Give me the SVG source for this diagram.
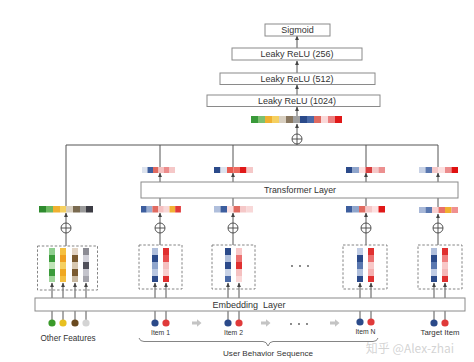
<svg xmlns="http://www.w3.org/2000/svg" width="474" height="362" viewBox="0 0 474 362">
<defs>
<style>
.box{fill:#fff;stroke:#8a8a8a;stroke-width:1}
.lbl{font-family:"Liberation Sans",Arial,sans-serif;fill:#333;text-anchor:middle}
.ln{stroke:#555;stroke-width:1;fill:none}
.dash{fill:none;stroke:#777;stroke-width:0.9;stroke-dasharray:2.5,1.8}
.plus{fill:#fff;stroke:#444;stroke-width:0.9}
.gar{fill:#c4c4c4}
</style>
<marker id="ah" viewBox="0 0 6 6" refX="5" refY="3" markerWidth="5" markerHeight="5" orient="auto" markerUnits="userSpaceOnUse">
<path d="M0,0.6 L5.5,3 L0,5.4 Z" fill="#444"/>
</marker>
<g id="oplus"><circle r="5" class="plus"/><path d="M-5,0H5M0,-5V5" stroke="#444" stroke-width="0.9"/></g>
</defs>
<rect width="474" height="362" fill="#fff"/>

<g id="connectors">
<line class="ln" x1="297" y1="48" x2="297" y2="36" marker-end="url(#ah)"/>
<line class="ln" x1="297" y1="73" x2="297" y2="61" marker-end="url(#ah)"/>
<line class="ln" x1="297" y1="95" x2="297" y2="85" marker-end="url(#ah)"/>
<line class="ln" x1="297" y1="116" x2="297" y2="107" marker-end="url(#ah)"/>
<line class="ln" x1="297" y1="134" x2="297" y2="124" marker-end="url(#ah)"/>
<line class="ln" x1="297" y1="145" x2="297" y2="144"/>
<line class="ln" x1="66" y1="145" x2="438" y2="145" stroke-width="1.2"/>
<line class="ln" x1="66" y1="145" x2="66" y2="206"/>
<line class="ln" x1="66" y1="223" x2="66" y2="213" marker-end="url(#ah)"/>
<line class="ln" x1="66" y1="246" x2="66" y2="233"/>

<line class="ln" x1="160" y1="145" x2="160" y2="167"/>
<line class="ln" x1="160" y1="182" x2="160" y2="173" marker-end="url(#ah)"/>
<line class="ln" x1="160" y1="198" x2="160" y2="206"/>
<line class="ln" x1="160" y1="223" x2="160" y2="213" marker-end="url(#ah)"/>
<line class="ln" x1="160" y1="245" x2="160" y2="233"/>

<line class="ln" x1="233" y1="145" x2="233" y2="167"/>
<line class="ln" x1="233" y1="182" x2="233" y2="173" marker-end="url(#ah)"/>
<line class="ln" x1="233" y1="198" x2="233" y2="206"/>
<line class="ln" x1="233" y1="223" x2="233" y2="213" marker-end="url(#ah)"/>
<line class="ln" x1="233" y1="245" x2="233" y2="233"/>

<line class="ln" x1="366" y1="145" x2="366" y2="167"/>
<line class="ln" x1="366" y1="182" x2="366" y2="173" marker-end="url(#ah)"/>
<line class="ln" x1="366" y1="198" x2="366" y2="206"/>
<line class="ln" x1="366" y1="223" x2="366" y2="213" marker-end="url(#ah)"/>
<line class="ln" x1="366" y1="245" x2="366" y2="233"/>

<line class="ln" x1="438" y1="145" x2="438" y2="167"/>
<line class="ln" x1="438" y1="182" x2="438" y2="173" marker-end="url(#ah)"/>
<line class="ln" x1="438" y1="198" x2="438" y2="207"/>
<line class="ln" x1="438" y1="223" x2="438" y2="214" marker-end="url(#ah)"/>
<line class="ln" x1="438" y1="245" x2="438" y2="233"/>

<g class="ln">
<line x1="52" y1="298" x2="52" y2="283" marker-end="url(#ah)"/>
<line x1="63" y1="298" x2="63" y2="283" marker-end="url(#ah)"/>
<line x1="75" y1="298" x2="75" y2="283" marker-end="url(#ah)"/>
<line x1="86" y1="298" x2="86" y2="283" marker-end="url(#ah)"/>
<line x1="155" y1="298" x2="155" y2="283" marker-end="url(#ah)"/>
<line x1="166" y1="298" x2="166" y2="283" marker-end="url(#ah)"/>
<line x1="228" y1="298" x2="228" y2="283" marker-end="url(#ah)"/>
<line x1="239" y1="298" x2="239" y2="283" marker-end="url(#ah)"/>
<line x1="360" y1="298" x2="360" y2="283" marker-end="url(#ah)"/>
<line x1="371" y1="298" x2="371" y2="283" marker-end="url(#ah)"/>
<line x1="434" y1="298" x2="434" y2="283" marker-end="url(#ah)"/>
<line x1="445" y1="298" x2="445" y2="283" marker-end="url(#ah)"/>
</g>
<g class="ln">
<line x1="52" y1="311" x2="52" y2="320"/>
<line x1="63" y1="311" x2="63" y2="320"/>
<line x1="75" y1="311" x2="75" y2="320"/>
<line x1="86" y1="311" x2="86" y2="320"/>
<line x1="155" y1="311" x2="155" y2="320"/>
<line x1="166" y1="311" x2="166" y2="320"/>
<line x1="228" y1="311" x2="228" y2="320"/>
<line x1="239" y1="311" x2="239" y2="320"/>
<line x1="360" y1="311" x2="360" y2="319"/>
<line x1="371" y1="311" x2="371" y2="319"/>
<line x1="434" y1="311" x2="434" y2="320"/>
<line x1="445" y1="311" x2="445" y2="320"/>
</g>
</g>

<g id="mlp">
<g id="sigmoid"><rect class="box" x="265" y="24" width="65" height="12"/><text class="lbl" x="297.5" y="33.2" font-size="9">Sigmoid</text></g>
<g id="relu256"><rect class="box" x="232" y="48" width="130" height="12"/><text class="lbl" x="297" y="57.2" font-size="9">Leaky ReLU (256)</text></g>
<g id="relu512"><rect class="box" x="220" y="73" width="155" height="11.5"/><text class="lbl" x="297" y="82" font-size="9">Leaky ReLU (512)</text></g>
<g id="relu1024"><rect class="box" x="207" y="95" width="173" height="11.5"/><text class="lbl" x="297" y="104" font-size="9">Leaky ReLU (1024)</text></g>
</g>

<g id="concat-top">
<rect x="251" y="116" width="7" height="7" fill="#3a9a3a"/>
<rect x="258" y="116" width="7" height="7" fill="#7cc070"/>
<rect x="265" y="116" width="7" height="7" fill="#f0b030"/>
<rect x="272" y="116" width="7" height="7" fill="#f5d060"/>
<rect x="279" y="116" width="7" height="7" fill="#d8cfc0"/>
<rect x="286" y="116" width="7" height="7" fill="#8a7860"/>
<rect x="293" y="116" width="7" height="7" fill="#a0a0a0"/>
<rect x="300" y="116" width="7" height="7" fill="#2b4a8a"/>
<rect x="307" y="116" width="7" height="7" fill="#4a6aa8"/>
<rect x="314" y="116" width="7" height="7" fill="#e06a60"/>
<rect x="321" y="116" width="7" height="7" fill="#fad8d8"/>
<rect x="328" y="116" width="7" height="7" fill="#ec8080"/>
<rect x="335" y="116" width="7" height="7" fill="#e01818"/>
</g>
<g id="plus-top"><use href="#oplus" x="297" y="139"/></g>

<g id="transformer"><rect class="box" x="141" y="182" width="317" height="16"/><text class="lbl" x="300" y="193.2" font-size="8.8">Transformer Layer</text></g>

<g id="other-concat">
<rect x="39" y="206" width="7" height="6.5" fill="#2e8b2e"/>
<rect x="46" y="206" width="7" height="6.5" fill="#6cb860"/>
<rect x="53" y="206" width="7" height="6.5" fill="#f0b030"/>
<rect x="60" y="206" width="6" height="6.5" fill="#f5d060"/>
<rect x="66" y="206" width="7" height="6.5" fill="#d8cfc0"/>
<rect x="73" y="206" width="7" height="6.5" fill="#7a6a50"/>
<rect x="80" y="206" width="6" height="6.5" fill="#9a9a9a"/>
<rect x="86" y="206" width="7" height="6.5" fill="#3c3c44"/>
</g>
<g id="other-plus"><use href="#oplus" x="66" y="228"/></g>
<g id="other-emb">
<rect class="dash" x="37.5" y="246" width="60" height="44"/>
<rect x="49" y="248" width="6" height="7" fill="#8fcf8f"/><rect x="49" y="255" width="6" height="7" fill="#3a9a3a"/><rect x="49" y="262" width="6" height="7" fill="#c0e4b8"/><rect x="49" y="269" width="6" height="7" fill="#3a9a3a"/><rect x="49" y="276" width="6" height="6" fill="#9fd49a"/>
<rect x="60" y="248" width="6" height="7" fill="#f5c040"/><rect x="60" y="255" width="6" height="7" fill="#f0a020"/><rect x="60" y="262" width="6" height="7" fill="#f5d060"/><rect x="60" y="269" width="6" height="7" fill="#f0a820"/><rect x="60" y="276" width="6" height="6" fill="#f5c040"/>
<rect x="72" y="248" width="6" height="7" fill="#e2d4c4"/><rect x="72" y="255" width="6" height="7" fill="#7a5a30"/><rect x="72" y="262" width="6" height="7" fill="#d8c8b0"/><rect x="72" y="269" width="6" height="7" fill="#7a5a30"/><rect x="72" y="276" width="6" height="6" fill="#c8b8a0"/>
<rect x="83" y="248" width="6" height="7" fill="#8c8c94"/><rect x="83" y="255" width="6" height="7" fill="#d0d0d8"/><rect x="83" y="262" width="6" height="7" fill="#50505a"/><rect x="83" y="269" width="6" height="7" fill="#c4c4cc"/><rect x="83" y="276" width="6" height="6" fill="#a4a4ac"/>
</g>
<g id="other-inputs">
<circle cx="52" cy="323" r="3.6" fill="#3a9a2a"/>
<circle cx="63" cy="323" r="3.6" fill="#e8c020"/>
<circle cx="75" cy="323" r="3.6" fill="#6a4a20"/>
<circle cx="86" cy="323" r="3.6" fill="#d4d4d4"/>
<text class="lbl" x="68" y="341" font-size="8.2">Other Features</text>
</g>

<g id="item1">
<rect x="142" y="167" width="5.5" height="6" fill="#dde3ee"/><rect x="147.5" y="167" width="5.5" height="6" fill="#3d5e9e"/><rect x="153" y="167" width="5.5" height="6" fill="#e06a60"/><rect x="158.5" y="167" width="5.5" height="6" fill="#f5c0c0"/><rect x="164" y="167" width="5.5" height="6" fill="#ec8c8c"/><rect x="169.5" y="167" width="5.5" height="6" fill="#f5c8c8"/>
<rect x="141" y="206" width="5.7" height="6.5" fill="#3d5e9e"/><rect x="146.7" y="206" width="5.7" height="6.5" fill="#9aadd0"/><rect x="152.4" y="206" width="5.7" height="6.5" fill="#e06a60"/><rect x="158.1" y="206" width="5.7" height="6.5" fill="#f5c0c0"/><rect x="163.8" y="206" width="5.7" height="6.5" fill="#f8d8d8"/><rect x="169.5" y="206" width="5.7" height="6.5" fill="#f2b235"/><rect x="175.2" y="206" width="5.7" height="6.5" fill="#e23a3a"/>
<use href="#oplus" x="160" y="228"/>
<rect class="dash" x="139" y="245" width="43" height="44"/>
<rect x="152" y="248" width="6" height="7" fill="#b0bfdc"/><rect x="152" y="255" width="6" height="7" fill="#2b4a8a"/><rect x="152" y="262" width="6" height="7" fill="#8fa5cc"/><rect x="152" y="269" width="6" height="7" fill="#b8c6e0"/><rect x="152" y="276" width="6" height="6" fill="#2b4a8a"/>
<rect x="163" y="248" width="6" height="7" fill="#e03030"/><rect x="163" y="255" width="6" height="7" fill="#e85050"/><rect x="163" y="262" width="6" height="7" fill="#f5c0c0"/><rect x="163" y="269" width="6" height="7" fill="#f8d0d0"/><rect x="163" y="276" width="6" height="6" fill="#e03030"/>
<circle cx="155" cy="323" r="3.6" fill="#2b4a8a"/><circle cx="166" cy="323" r="3.6" fill="#e03a3a"/>
<text class="lbl" x="160.5" y="334.5" font-size="6.8">Item 1</text>
</g>

<g id="item2">
<rect x="214" y="167" width="6.5" height="6" fill="#2b4a8a"/><rect x="220.5" y="167" width="6.5" height="6" fill="#dde3ee"/><rect x="227" y="167" width="6.5" height="6" fill="#e85a50"/><rect x="233.5" y="167" width="6.5" height="6" fill="#ee6a60"/><rect x="240" y="167" width="6.5" height="6" fill="#e01818"/><rect x="246.5" y="167" width="6.5" height="6" fill="#f5c8c8"/>
<rect x="214" y="206" width="6.5" height="6.5" fill="#b0bfdc"/><rect x="220.5" y="206" width="6.5" height="6.5" fill="#3d5e9e"/><rect x="227" y="206" width="6.5" height="6.5" fill="#fde0e0"/><rect x="233.5" y="206" width="6.5" height="6.5" fill="#e06a60"/><rect x="240" y="206" width="6.5" height="6.5" fill="#f5c8c8"/><rect x="246.5" y="206" width="6.5" height="6.5" fill="#f8d8d8"/>
<use href="#oplus" x="233" y="228"/>
<rect class="dash" x="212" y="245" width="43" height="44"/>
<rect x="225" y="248" width="6" height="7" fill="#2b4a8a"/><rect x="225" y="255" width="6" height="7" fill="#b0bfdc"/><rect x="225" y="262" width="6" height="7" fill="#2b4a8a"/><rect x="225" y="269" width="6" height="7" fill="#c8d2e6"/><rect x="225" y="276" width="6" height="6" fill="#4a6aa8"/>
<rect x="236" y="248" width="6" height="7" fill="#f8c8c8"/><rect x="236" y="255" width="6" height="7" fill="#ec7070"/><rect x="236" y="262" width="6" height="7" fill="#e03030"/><rect x="236" y="269" width="6" height="7" fill="#f5c0c0"/><rect x="236" y="276" width="6" height="6" fill="#fad8d8"/>
<circle cx="228" cy="323" r="3.6" fill="#2b4a8a"/><circle cx="239" cy="323" r="3.6" fill="#e03a3a"/>
<text class="lbl" x="233.5" y="334.5" font-size="6.8">Item 2</text>
</g>

<g id="itemN">
<rect x="346" y="167" width="6.5" height="6" fill="#2b4a8a"/><rect x="352.5" y="167" width="6.5" height="6" fill="#8fa5cc"/><rect x="359" y="167" width="6.5" height="6" fill="#fde0e0"/><rect x="365.5" y="167" width="6.5" height="6" fill="#d84040"/><rect x="372" y="167" width="6.5" height="6" fill="#f5c8c8"/><rect x="378.5" y="167" width="6.5" height="6" fill="#ec9090"/>
<rect x="346" y="206" width="6.5" height="6.5" fill="#3d5e9e"/><rect x="352.5" y="206" width="6.5" height="6.5" fill="#8fa5cc"/><rect x="359" y="206" width="6.5" height="6.5" fill="#e06a60"/><rect x="365.5" y="206" width="6.5" height="6.5" fill="#f5c8c8"/><rect x="372" y="206" width="6.5" height="6.5" fill="#fde0e0"/><rect x="378.5" y="206" width="6.5" height="6.5" fill="#e01818"/>
<use href="#oplus" x="366" y="228"/>
<rect class="dash" x="343" y="245" width="44" height="44"/>
<rect x="357" y="248" width="6" height="7" fill="#c0cce4"/><rect x="357" y="255" width="6" height="7" fill="#2b4a8a"/><rect x="357" y="262" width="6" height="7" fill="#5a78b0"/><rect x="357" y="269" width="6" height="7" fill="#b0bfdc"/><rect x="357" y="276" width="6" height="6" fill="#2b4a8a"/>
<rect x="368" y="248" width="6" height="7" fill="#e03030"/><rect x="368" y="255" width="6" height="7" fill="#ec7070"/><rect x="368" y="262" width="6" height="7" fill="#f8c8c8"/><rect x="368" y="269" width="6" height="7" fill="#f5b0b0"/><rect x="368" y="276" width="6" height="6" fill="#e03030"/>
<circle cx="360" cy="322" r="3.6" fill="#2b4a8a"/><circle cx="371" cy="322" r="3.6" fill="#e03a3a"/>
<text class="lbl" x="365.5" y="333.5" font-size="6.8">Item N</text>
</g>

<g id="target">
<rect x="419" y="167" width="6.5" height="6" fill="#c8d2e6"/><rect x="425.5" y="167" width="6.5" height="6" fill="#5a78b0"/><rect x="432" y="167" width="6.5" height="6" fill="#f5c8c8"/><rect x="438.5" y="167" width="6.5" height="6" fill="#fde0e0"/><rect x="445" y="167" width="6.5" height="6" fill="#ec8c8c"/><rect x="451.5" y="167" width="6.5" height="6" fill="#e01010"/>
<rect x="419" y="207" width="6.5" height="6" fill="#a8b8d8"/><rect x="425.5" y="207" width="6.5" height="6" fill="#5a78b0"/><rect x="432" y="207" width="6.5" height="6" fill="#f8d0d0"/><rect x="438.5" y="207" width="6.5" height="6" fill="#e8706a"/><rect x="445" y="207" width="6.5" height="6" fill="#f0b030"/><rect x="451.5" y="207" width="6.5" height="6" fill="#f09090"/>
<use href="#oplus" x="438" y="228"/>
<rect class="dash" x="418" y="245" width="44" height="44"/>
<rect x="431" y="248" width="6" height="7" fill="#b0bfdc"/><rect x="431" y="255" width="6" height="7" fill="#2b4a8a"/><rect x="431" y="262" width="6" height="7" fill="#5a78b0"/><rect x="431" y="269" width="6" height="7" fill="#c0cce4"/><rect x="431" y="276" width="6" height="6" fill="#2b4a8a"/>
<rect x="442" y="248" width="6" height="7" fill="#e03030"/><rect x="442" y="255" width="6" height="7" fill="#f08080"/><rect x="442" y="262" width="6" height="7" fill="#f8c8c8"/><rect x="442" y="269" width="6" height="7" fill="#f5b8b8"/><rect x="442" y="276" width="6" height="6" fill="#e03030"/>
<circle cx="434" cy="323" r="3.6" fill="#2b4a8a"/><circle cx="445" cy="323" r="3.6" fill="#e03a3a"/>
<text class="lbl" x="440" y="334.5" font-size="7.8">Target Item</text>
</g>

<g id="embedding"><rect class="box" x="35" y="298" width="430" height="13"/><text class="lbl" x="249" y="307.6" font-size="9" xml:space="preserve">Embedding  Layer</text></g>

<g id="ellipses" fill="#555">
<circle cx="292" cy="266" r="0.9"/><circle cx="300" cy="266" r="0.9"/><circle cx="308" cy="266" r="0.9"/>
<circle cx="291" cy="324" r="0.9"/><circle cx="299" cy="324" r="0.9"/><circle cx="307" cy="324" r="0.9"/>
</g>
<g id="seq-arrows" class="gar">
<path d="M192,321.5h5v-2.2l4.5,3.7l-4.5,3.7v-2.2h-5z"/>
<path d="M261,321.5h5v-2.2l4.5,3.7l-4.5,3.7v-2.2h-5z"/>
<path d="M330,321.5h5v-2.2l4.5,3.7l-4.5,3.7v-2.2h-5z"/>
</g>
<g id="brace">
<path d="M139,338 Q140,341.5 144,341.5 H263 Q266.5,341.5 268,346 Q269.5,341.5 273,341.5 H373 Q377,341.5 378,338" fill="none" stroke="#666" stroke-width="0.8"/>
<text class="lbl" x="268" y="356" font-size="8.1">User Behavior Sequence</text>
</g>
<text x="410" y="353" font-family="'Noto Sans CJK SC','Liberation Sans',sans-serif" font-size="12" fill="#ccc" fill-opacity="0.85" text-anchor="middle">知乎 @Alex-zhai</text>
</svg>
